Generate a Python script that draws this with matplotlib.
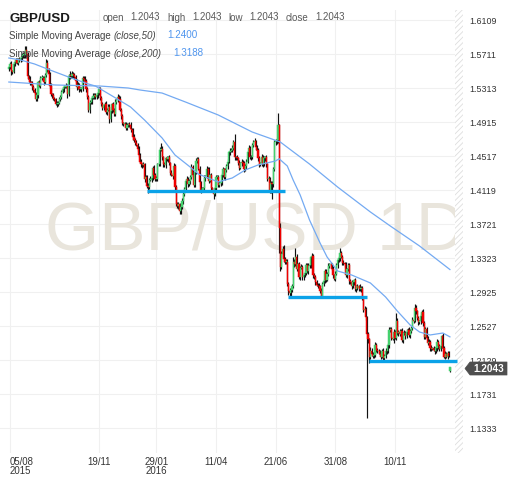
import numpy as np
import pandas as pd
import matplotlib
matplotlib.use('Agg')
import matplotlib.pyplot as plt
from matplotlib.patches import Polygon, Rectangle

plt.rcParams['font.family'] = ['Liberation Sans', 'DejaVu Sans']

# ---------------- data: daily closes by month ----------------
aug15 = [1.5555, 1.5598, 1.5510, 1.5505, 1.5595, 1.5620, 1.5640, 1.5610, 1.5650, 1.5640,
         1.5660, 1.5690, 1.5700, 1.5700, 1.5760, 1.5710, 1.5450, 1.5420, 1.5380, 1.5370]
sep15 = [1.5320, 1.5290, 1.5250, 1.5180, 1.5230, 1.5380, 1.5340, 1.5430, 1.5430, 1.5430,
         1.5380, 1.5460, 1.5610, 1.5530, 1.5480, 1.5340, 1.5240, 1.5230, 1.5190, 1.5180,
         1.5120, 1.5130]
oct15 = [1.5140, 1.5180, 1.5210, 1.5270, 1.5300, 1.5330, 1.5330, 1.5340, 1.5240, 1.5450,
         1.5470, 1.5450, 1.5480, 1.5460, 1.5440, 1.5400, 1.5320, 1.5350, 1.5300, 1.5300,
         1.5300, 1.5430]
nov15 = [1.5420, 1.5400, 1.5300, 1.5210, 1.5050, 1.5140, 1.5150, 1.5200, 1.5220, 1.5230,
         1.5210, 1.5230, 1.5250, 1.5300, 1.5200, 1.5120, 1.5080, 1.5110, 1.5130, 1.5030,
         1.5060]
dec15 = [1.5090, 1.4950, 1.5040, 1.5120, 1.5060, 1.5010, 1.5150, 1.5170, 1.5210, 1.5190,
         1.5060, 1.4980, 1.4900, 1.4890, 1.4890, 1.4840, 1.4880, 1.4890, 1.4880, 1.4830,
         1.4820, 1.4740]
jan16 = [1.4710, 1.4670, 1.4650, 1.4600, 1.4530, 1.4450, 1.4420, 1.4410, 1.4420, 1.4250,
         1.4270, 1.4170, 1.4160, 1.4240, 1.4240, 1.4260, 1.4380, 1.4300, 1.4250, 1.4250]
feb16 = [1.4420, 1.4420, 1.4590, 1.4600, 1.4500, 1.4420, 1.4410, 1.4490, 1.4480, 1.4500,
         1.4430, 1.4320, 1.4300, 1.4280, 1.4400, 1.4150, 1.3960, 1.3930, 1.3950, 1.3870,
         1.3920]
mar16 = [1.3990, 1.4070, 1.4130, 1.4230, 1.4250, 1.4190, 1.4220, 1.4270, 1.4390, 1.4300,
         1.4180, 1.4330, 1.4460, 1.4480, 1.4370, 1.4210, 1.4110, 1.4120, 1.4140, 1.4260,
         1.4280, 1.4370, 1.4360]
apr16 = [1.4230, 1.4290, 1.4140, 1.4110, 1.4070, 1.4140, 1.4270, 1.4270, 1.4180, 1.4200,
         1.4200, 1.4300, 1.4360, 1.4270, 1.4350, 1.4400, 1.4450, 1.4560, 1.4580, 1.4590,
         1.4610]
may16 = [1.4680, 1.4500, 1.4500, 1.4490, 1.4440, 1.4380, 1.4430, 1.4450, 1.4430, 1.4360,
         1.4400, 1.4450, 1.4560, 1.4610, 1.4500, 1.4500, 1.4650, 1.4680, 1.4690, 1.4620,
         1.4590, 1.4490]
jun16 = [1.4420, 1.4430, 1.4510, 1.4420, 1.4490, 1.4500, 1.4420, 1.4250, 1.4250, 1.4110,
         1.4200, 1.4190, 1.4360, 1.4680, 1.4690, 1.4700, 1.4880, 1.3680, 1.3220, 1.3370,
         1.3430, 1.3310]
jul16 = [1.3280, 1.3280, 1.3020, 1.2940, 1.2910, 1.2950, 1.2990, 1.3280, 1.3250, 1.3340,
         1.3200, 1.3250, 1.3100, 1.3210, 1.3220, 1.3100, 1.3120, 1.3150, 1.3240, 1.3170,
         1.3230]
aug16 = [1.3240, 1.3330, 1.3350, 1.3120, 1.3100, 1.3040, 1.3010, 1.3000, 1.2990, 1.2940,
         1.2880, 1.3020, 1.3050, 1.3170, 1.3070, 1.3140, 1.3230, 1.3250, 1.3250, 1.3200,
         1.3120, 1.3080, 1.3140]
sep16 = [1.3240, 1.3300, 1.3320, 1.3380, 1.3340, 1.3270, 1.3260, 1.3250, 1.3120, 1.3190,
         1.3240, 1.3050, 1.3040, 1.2990, 1.3040, 1.3060, 1.2960, 1.2990, 1.2970, 1.2990,
         1.2960, 1.2970]
oct16 = [1.2860, 1.2720, 1.2730, 1.2630, 1.2430, 1.2370, 1.2170, 1.2240, 1.2200, 1.2180,
         1.2190, 1.2300, 1.2250, 1.2230, 1.2230, 1.2200, 1.2170, 1.2240, 1.2150, 1.2180,
         1.2240]
nov16 = [1.2230, 1.2300, 1.2480, 1.2490, 1.2390, 1.2380, 1.2460, 1.2390, 1.2590, 1.2440,
         1.2460, 1.2430, 1.2470, 1.2360, 1.2440, 1.2450, 1.2410, 1.2460, 1.2480, 1.2420,
         1.2470, 1.2500]
dec16 = [1.2600, 1.2590, 1.2740, 1.2700, 1.2620, 1.2570, 1.2580, 1.2650, 1.2690, 1.2560,
         1.2400, 1.2490, 1.2390, 1.2330, 1.2340, 1.2270, 1.2260, 1.2270, 1.2250, 1.2230,
         1.2270, 1.2340]
jan17 = [1.2290, 1.2260, 1.2290, 1.2410, 1.2270, 1.2170, 1.2200, 1.2170, 1.2210, 1.2180,
         1.2043]

first_open = 1.5540
open_gaps = {'2017-01-16': 1.2000}

# wick extents beyond the body (in 0.001)
up_wick = [2,2,3,1,2,2,3,2,2,3,2,3,3,2,5,4,3,2,3,2,
           2,3,2,2,3,2,3,2,3,2,2,3,4,3,2,2,3,2,3,2,2,3,
           2,3,2,2,3,2,2,3,2,3,4,2,3,2,3,2,2,3,2,3,2,2,
           2,3,2,3,2,3,2,2,3,2,2,3,2,3,2,2,3,2,2,3,2,
           3,4,3,2,3,2,3,2,3,2,3,2,3,2,2,3,2,1,2,3,2,3,
           3,2,3,2,3,2,3,2,3,2,3,2,3,2,4,3,2,3,2,3,
           2,3,3,7,3,2,3,2,3,2,3,2,3,2,3,2,3,2,3,2,3,
           3,2,3,2,3,2,3,2,3,2,3,2,3,3,2,3,2,3,2,3,2,3,2,
           3,2,3,2,3,2,3,2,3,2,3,2,3,2,3,2,3,2,3,2,3,
           3,9,2,3,2,3,2,3,2,3,2,3,2,3,2,3,2,3,4,2,3,2,
           3,2,3,2,3,2,3,2,3,2,3,2,3,3,3,3,14,1,5,4,3,4,
           3,3,3,2,3,2,3,5,3,10,3,2,3,2,3,2,3,2,3,2,3,
           3,2,3,2,3,2,3,2,3,2,3,2,3,2,3,2,3,2,3,2,3,2,3,
           3,2,3,6,3,2,3,2,3,2,3,2,3,2,3,2,3,2,3,2,3,2,
           3,2,3,2,1,3,2,4,3,2,3,4,3,2,3,2,3,2,3,2,3,
           2,3,3,2,3,2,3,2,9,3,2,3,2,3,2,3,2,3,2,3,2,3,
           3,2,4,3,2,3,2,3,2,4,3,2,3,2,3,2,3,1,2,3,2,3,
           2,3,2,1,3,2,3,2,3,2,1]
dn_wick = [3,2,4,3,2,3,2,2,3,2,2,3,2,3,4,3,3,4,3,2,
           3,2,3,2,2,3,2,3,2,3,3,2,2,3,2,3,2,3,2,2,1,3,
           3,2,2,3,2,3,2,2,4,2,3,2,2,3,2,3,3,2,3,2,3,2,
           2,3,3,2,2,3,2,3,2,3,2,2,3,2,3,2,3,2,3,2,3,
           2,5,3,2,3,2,3,2,2,3,2,3,2,2,3,2,2,2,2,3,2,3,
           3,3,2,3,3,2,3,3,2,4,2,3,8,3,2,3,2,3,3,2,
           3,2,2,2,3,3,2,3,2,3,2,3,2,3,2,4,3,2,3,3,3,
           2,3,2,3,2,3,2,3,2,3,2,3,2,3,2,3,3,2,3,2,3,2,3,
           3,2,3,2,6,2,3,2,3,2,3,2,3,2,3,2,3,2,3,2,3,
           2,3,3,2,3,3,2,3,2,3,2,3,2,3,2,3,2,3,2,3,2,3,
           3,2,3,3,2,3,3,2,4,3,3,18,3,2,3,3,3,30,5,3,3,3,
           3,3,3,5,3,3,3,2,3,2,3,3,2,3,2,3,3,2,3,2,3,
           2,3,2,3,2,3,2,3,2,3,2,2,3,2,3,2,3,2,3,2,3,2,3,
           2,3,2,3,2,3,2,3,2,3,2,3,2,3,2,3,2,3,2,3,2,3,
           3,3,3,3,98,4,8,3,2,3,3,2,3,2,3,2,3,2,3,2,3,
           3,2,3,2,3,2,5,2,3,2,3,2,3,2,3,2,3,2,3,2,3,2,
           2,3,2,3,2,3,2,3,2,3,2,3,2,3,2,3,2,1,2,3,2,3,
           3,2,3,2,3,2,3,2,3,2,1]

# moving averages (trading-day index, value)
sma50_day = [0, 10, 22, 33, 51, 68, 74, 87, 104, 116, 131, 142, 155, 162, 179, 191, 202,
             213, 228, 231, 238, 243, 249, 257, 266, 272, 281, 293, 309, 322, 332, 343,
             351, 360, 371, 377]
sma50_val = [1.5664, 1.5641, 1.5594, 1.5535, 1.5442, 1.5360, 1.5336, 1.5231, 1.5091,
             1.4938, 1.4728, 1.4529, 1.4388, 1.4306, 1.4213, 1.4260, 1.4353, 1.4412,
             1.4459, 1.4485, 1.4400, 1.4236, 1.4061, 1.3768, 1.3499, 1.3335, 1.3171,
             1.3124, 1.3031, 1.2867, 1.2703, 1.2539, 1.2457, 1.2422, 1.2445, 1.2400]
sma200_day = [0, 40, 78, 102, 112, 131, 151, 179, 208, 232, 257, 281, 309, 326, 351, 377]
sma200_val = [1.5383, 1.5348, 1.5336, 1.5313, 1.5290, 1.5254, 1.5149, 1.4997, 1.4798,
              1.4681, 1.4423, 1.4154, 1.3862, 1.3698, 1.3464, 1.3188]

# horizontal support levels
support_level = [1.4111, 1.2863, 1.2117]
support_from = [118, 238.6, 307.8]
support_to = [236, 306, 383]

yticks = [1.1333, 1.1731, 1.2129, 1.2527, 1.2925, 1.3323, 1.3721, 1.4119, 1.4517,
          1.4915, 1.5313, 1.5711, 1.6109]
tick_dates = ['2015-08-05', '2015-11-19', '2016-01-29', '2016-04-11', '2016-06-21',
              '2016-08-31', '2016-11-10']

# ---------------- build ----------------
closes = np.array(aug15 + sep15 + oct15 + nov15 + dec15 + jan16 + feb16 + mar16 + apr16 +
                  may16 + jun16 + jul16 + aug16 + sep16 + oct16 + nov16 + dec16 + jan17)
dates = pd.bdate_range('2015-08-04', '2017-01-16').drop(pd.to_datetime(['2015-12-25', '2016-01-01']))
up = np.array(up_wick) * 0.001
dn = np.array(dn_wick) * 0.001
assert len(dates) == len(closes) == len(up) == len(dn), (len(dates), len(closes), len(up), len(dn))

opens = np.r_[first_open, closes[:-1]]
for d, v in open_gaps.items():
    opens[dates.get_loc(pd.Timestamp(d))] = v
highs = np.maximum(opens, closes) + up
lows = np.minimum(opens, closes) - dn
x = np.arange(len(dates))

W, H = 514, 483
fig = plt.figure(figsize=(W / 100, H / 100), dpi=100)
fig.patch.set_facecolor('white')
def fx(px): return px / W
def fy(py): return 1 - py / H

AX_L, AX_R, AX_T, AX_B = 0, 463, 10, 453
ax = fig.add_axes([fx(AX_L), fy(AX_B), (AX_R - AX_L) / W, (AX_B - AX_T) / H])
X0, DX = 8.83, 1.17
ax.set_xlim((AX_L - X0) / DX, (AX_R - X0) / DX)
PY0, PPU = 20, 854.3
ax.set_ylim(1.6109 - (AX_B - PY0) / PPU, 1.6109 + (PY0 - AX_T) / PPU)
for s in ax.spines.values():
    s.set_visible(False)

# grid / ticks
tick_pos = dates.get_indexer(pd.to_datetime(tick_dates))
labels = []
prev_year = None
for d in pd.to_datetime(tick_dates):
    lab = d.strftime('%d/%m')
    if prev_year is None or d.year != prev_year:
        lab += '\n' + str(d.year)
    prev_year = d.year
    labels.append(lab)
ax.set_xticks(tick_pos)
ax.set_xticklabels(labels, fontsize=6.9, color='#333333', linespacing=0.85)
ax.xaxis.get_ticklabels()[0].set_horizontalalignment('left')
ax.yaxis.tick_right()
ax.set_yticks(yticks)
ax.set_yticklabels(['%.4f' % v for v in yticks], fontsize=6.4, color='#333333')
ax.tick_params(axis='both', length=0)
ax.tick_params(axis='x', pad=3.2)
ax.tick_params(axis='y', pad=4.5)
ax.grid(True, color='#f0f0f0', lw=0.8, zorder=0)
ax.set_axisbelow(True)

# watermark
ax.text(45 / (AX_R - AX_L), (AX_B - 250) / (AX_B - AX_T), 'GBP/USD 1D', transform=ax.transAxes,
        fontsize=50, color='#e9e5dc', ha='left', va='baseline', zorder=1, clip_on=True)

# hatched right margin
plt.rcParams['hatch.linewidth'] = 0.6
ax.add_patch(Rectangle(((455 - AX_L) / (AX_R - AX_L), 0), (AX_R - 455) / (AX_R - AX_L), 1,
                       transform=ax.transAxes, facecolor='white', edgecolor='#dedede',
                       hatch='//////', lw=0, zorder=2))

# candles
GREEN, RED = '#45d16e', '#f00000'
cols = np.where(closes >= opens, GREEN, RED)
ax.vlines(x, lows, highs, color='#111111', lw=0.85, zorder=3)
body = np.maximum(np.abs(closes - opens), 0.0008)
ax.bar(x, body, bottom=np.minimum(opens, closes), width=1.0, color=cols,
       edgecolor=cols, lw=0.35, zorder=4)

# moving averages
ax.plot(sma50_day, sma50_val, color='#74aaf2', lw=0.9, zorder=5)
ax.plot(sma200_day, sma200_val, color='#74aaf2', lw=0.9, zorder=5)

# supports
for lvl, a, b in zip(support_level, support_from, support_to):
    ax.plot([a, b], [lvl, lvl], color='#0ba2e8', lw=2.4, solid_capstyle='butt', zorder=6)

# header texts
fig.text(fx(9), fy(22.5), 'GBP/USD', fontsize=9.6, fontweight='bold', color='#1a1a1a', va='baseline')
hdr = [('open', 103), ('1.2043', 130), ('high', 167), ('1.2043', 192), ('low', 228),
       ('1.2043', 249), ('close', 286), ('1.2043', 315)]
for t, px in hdr:
    isval = t[0].isdigit()
    fig.text(fx(px), fy(19.8 if isval else 20.6), t, fontsize=7.0, color='#5a5a5a', va='baseline')

renderer = fig.canvas.get_renderer()
for base, par, val, vx in [(39, '(close,50)', '1.2400', 167), (57, '(close,200)', '1.3188', 173)]:
    t1 = fig.text(fx(9), fy(base), 'Simple Moving Average', fontsize=7.0, color='#444444', va='baseline')
    bb = t1.get_window_extent(renderer)
    fig.text(fx(bb.x1 + 2.8), fy(base), par, fontsize=7.0, color='#444444', style='italic', va='baseline')
    fig.text(fx(vx), fy(base - 1), val, fontsize=7.1, color='#4f95ee', va='baseline')

# last price tag
tag = Polygon([(fx(465), fy(368.5)), (fx(470), fy(362)), (fx(507), fy(362)),
               (fx(507), fy(375)), (fx(470), fy(375))], closed=True,
              transform=fig.transFigure, facecolor='#4f4f4f', edgecolor='#4f4f4f',
              lw=0.5, joinstyle='round', zorder=10)
fig.add_artist(tag)
fig.text(fx(488.5), fy(368.7), '%.4f' % closes[-1], fontsize=7.2, fontweight='bold', color='white',
         ha='center', va='center', zorder=11)

fig.savefig('out.png', dpi=100, facecolor='white')
